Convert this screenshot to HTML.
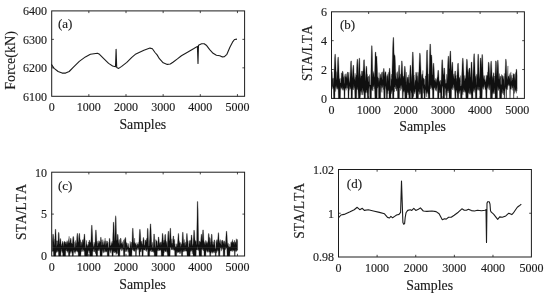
<!DOCTYPE html>
<html><head><meta charset="utf-8"><title>Figure</title>
<style>
html,body{margin:0;padding:0;background:#fff;}
svg{display:block;font-family:"Liberation Serif", "DejaVu Serif", serif;font-kerning:none;}
text{stroke:#1c1c1c;stroke-width:.15px;}
</style></head>
<body>
<svg width="550" height="297" viewBox="0 0 550 297">
<rect width="550" height="297" fill="#fff"/>
<rect x="51.7" y="10.9" width="192.9" height="85.4" fill="none" stroke="#1c1c1c" stroke-width="1"/>
<path d="M88.85 96.3V94.1M88.85 10.9V13.1M126 96.3V94.1M126 10.9V13.1M163.15 96.3V94.1M163.15 10.9V13.1M200.3 96.3V94.1M200.3 10.9V13.1M237.45 96.3V94.1M237.45 10.9V13.1M51.7 67.83H53.9M244.6 67.83H242.4M51.7 39.37H53.9M244.6 39.37H242.4" stroke="#1c1c1c" stroke-width="0.8" fill="none"/>
<text x="47.1" y="100.6" font-size="12" text-anchor="end" fill="#1c1c1c">6100</text>
<text x="47.1" y="72.13" font-size="12" text-anchor="end" fill="#1c1c1c">6200</text>
<text x="47.1" y="43.67" font-size="12" text-anchor="end" fill="#1c1c1c">6300</text>
<text x="47.1" y="15.2" font-size="12" text-anchor="end" fill="#1c1c1c">6400</text>
<text x="51.7" y="111.2" font-size="12" text-anchor="middle" fill="#1c1c1c">0</text>
<text x="88.85" y="111.2" font-size="12" text-anchor="middle" fill="#1c1c1c">1000</text>
<text x="126" y="111.2" font-size="12" text-anchor="middle" fill="#1c1c1c">2000</text>
<text x="163.15" y="111.2" font-size="12" text-anchor="middle" fill="#1c1c1c">3000</text>
<text x="200.3" y="111.2" font-size="12" text-anchor="middle" fill="#1c1c1c">4000</text>
<text x="237.45" y="111.2" font-size="12" text-anchor="middle" fill="#1c1c1c">5000</text>
<text x="142.8" y="129.4" font-size="13.8" text-anchor="middle" fill="#1c1c1c">Samples</text>
<text x="14.7" y="60.4" font-size="14.1" text-anchor="middle" fill="#1c1c1c" transform="rotate(-90 14.7 60.4)">Force(kN)</text>
<text x="58" y="28" font-size="13" text-anchor="start" fill="#1c1c1c">(a)</text>
<polyline points="51.4,64.4 54.1,68.4 58.1,71.5 62.1,73.1 65.6,73.1 69.2,71.5 73.2,67.4 79.3,61.4 85.4,56.9 90.4,54.3 97.5,53.3 99.5,54.3 103.5,58.3 108.6,63.4 112.6,66.0 115.5,66.8 116.1,49.2 116.7,67.4 118.7,68.4 121.7,66.4 126.8,62.4 131.8,57.3 135.9,53.9 143.9,50.3 150.0,48.1 152.4,48.8 155.0,52.5 157.1,54.9 159.4,58.7 163.2,62.8 167.3,64.4 170.3,64.0 173.3,62.0 177.4,58.9 181.4,55.7 187.5,52.3 193.5,48.8 197.4,46.4 198.0,63.4 198.5,45.2 201.6,43.8 204.2,43.8 206.3,45.2 209.7,49.6 213.1,53.3 216.4,55.3 219.8,55.7 222.4,56.9 224.4,56.7 226.9,54.3 229.9,47.2 232.5,42.2 234.5,39.5 237.0,39.1" fill="none" stroke="#1c1c1c" stroke-width="1.1" stroke-linejoin="round"/>
<rect x="331.5" y="11.8" width="192.9" height="86.6" fill="none" stroke="#1c1c1c" stroke-width="1"/>
<path d="M368.65 98.4V96.2M368.65 11.8V14M405.8 98.4V96.2M405.8 11.8V14M442.95 98.4V96.2M442.95 11.8V14M480.1 98.4V96.2M480.1 11.8V14M517.25 98.4V96.2M517.25 11.8V14M331.5 69.53H333.7M524.4 69.53H522.2M331.5 40.67H333.7M524.4 40.67H522.2" stroke="#1c1c1c" stroke-width="0.8" fill="none"/>
<text x="326.9" y="102.7" font-size="12" text-anchor="end" fill="#1c1c1c">0</text>
<text x="326.9" y="73.83" font-size="12" text-anchor="end" fill="#1c1c1c">2</text>
<text x="326.9" y="44.97" font-size="12" text-anchor="end" fill="#1c1c1c">4</text>
<text x="326.9" y="16.1" font-size="12" text-anchor="end" fill="#1c1c1c">6</text>
<text x="331.5" y="113.6" font-size="12" text-anchor="middle" fill="#1c1c1c">0</text>
<text x="368.65" y="113.6" font-size="12" text-anchor="middle" fill="#1c1c1c">1000</text>
<text x="405.8" y="113.6" font-size="12" text-anchor="middle" fill="#1c1c1c">2000</text>
<text x="442.95" y="113.6" font-size="12" text-anchor="middle" fill="#1c1c1c">3000</text>
<text x="480.1" y="113.6" font-size="12" text-anchor="middle" fill="#1c1c1c">4000</text>
<text x="517.25" y="113.6" font-size="12" text-anchor="middle" fill="#1c1c1c">5000</text>
<text x="422.6" y="130.7" font-size="13.8" text-anchor="middle" fill="#1c1c1c">Samples</text>
<text x="312" y="53.1" font-size="13.6" text-anchor="middle" fill="#1c1c1c" transform="rotate(-90 312 53.1)">STA/LTA</text>
<text x="340" y="28.8" font-size="13" text-anchor="start" fill="#1c1c1c">(b)</text>
<polygon points="332.1,71.6 332.4,78.0 332.6,78.3 332.9,79.5 333.1,77.9 333.4,79.1 333.6,86.2 333.9,78.3 334.1,71.1 334.4,64.4 334.6,57.9 334.9,54.2 335.1,54.2 335.4,54.2 335.6,57.9 335.9,64.4 336.1,71.1 336.4,72.2 336.6,77.0 336.9,80.4 337.1,73.8 337.4,67.2 337.6,60.9 337.9,57.2 338.1,57.2 338.4,57.2 338.6,60.9 338.9,67.2 339.1,73.8 339.4,80.0 339.6,78.6 339.9,79.7 340.1,82.9 340.4,82.9 340.6,82.7 340.9,78.3 341.1,79.6 341.4,72.8 341.6,79.9 341.9,73.2 342.1,74.4 342.4,71.3 342.6,71.3 342.9,71.3 343.1,72.3 343.4,75.9 343.6,77.1 343.9,77.5 344.1,84.0 344.4,82.2 344.6,75.7 344.9,75.4 345.1,74.0 345.4,76.0 345.6,76.5 345.9,77.5 346.1,73.5 346.4,76.5 346.6,78.4 346.9,76.5 347.1,79.1 347.4,73.2 347.6,72.1 347.9,72.1 348.1,72.1 348.4,75.2 348.6,79.8 348.9,72.3 349.1,83.2 349.4,81.4 349.6,80.9 349.9,77.8 350.1,75.9 350.4,69.3 350.6,63.0 350.9,60.9 351.1,60.9 351.4,60.9 351.6,66.2 351.9,72.6 352.1,75.4 352.4,78.3 352.6,72.7 352.9,67.4 353.1,65.3 353.4,65.3 353.6,65.3 353.9,69.5 354.1,74.9 354.4,77.5 354.6,79.8 354.9,78.8 355.1,73.2 355.4,81.4 355.6,77.6 355.9,76.9 356.1,74.8 356.4,75.4 356.6,68.4 356.9,61.8 357.1,59.2 357.4,59.2 357.6,59.2 357.9,64.4 358.1,71.1 358.4,78.3 358.6,69.7 358.9,61.4 359.1,58.2 359.4,58.2 359.6,58.2 359.9,64.7 360.1,73.2 360.4,74.8 360.6,78.8 360.9,75.8 361.1,76.0 361.4,75.9 361.6,71.3 361.9,70.9 362.1,70.9 362.4,71.4 362.6,76.0 362.9,71.3 363.1,71.2 363.4,65.9 363.6,60.8 363.9,59.8 364.1,59.8 364.4,59.8 364.6,64.9 364.9,70.1 365.1,75.1 365.4,81.5 365.6,76.1 365.9,70.6 366.1,66.3 366.4,66.3 366.6,66.3 366.9,68.4 367.1,73.8 367.4,74.5 367.6,76.7 367.9,77.4 368.1,82.6 368.4,80.5 368.6,76.0 368.9,77.0 369.1,77.8 369.4,76.1 369.6,74.5 369.9,85.0 370.1,85.0 370.4,85.0 370.6,85.0 370.9,72.3 371.1,60.6 371.4,49.8 371.6,45.7 371.9,45.7 372.1,45.7 372.4,54.1 372.6,65.2 372.9,77.3 373.1,74.2 373.4,71.4 373.6,73.3 373.9,73.3 374.1,77.5 374.4,76.0 374.6,72.6 374.9,62.9 375.1,53.9 375.4,52.1 375.6,52.1 375.9,52.1 376.1,57.5 376.4,56.2 376.6,56.2 376.9,56.2 377.1,62.6 377.4,69.2 377.6,76.3 377.9,77.2 378.1,78.3 378.4,78.0 378.6,82.9 378.9,78.0 379.1,72.5 379.4,81.9 379.6,80.5 379.9,78.1 380.1,78.2 380.4,74.6 380.6,74.5 380.9,74.5 381.1,75.0 381.4,72.4 381.6,78.5 381.9,76.6 382.1,72.1 382.4,71.8 382.6,79.5 382.9,79.3 383.1,73.7 383.4,70.3 383.6,68.5 383.9,68.5 384.1,68.5 384.4,73.3 384.6,77.3 384.9,73.3 385.1,72.4 385.4,71.8 385.6,71.8 385.9,71.8 386.1,74.7 386.4,76.6 386.6,78.4 386.9,83.7 387.1,76.4 387.4,75.8 387.6,74.4 387.9,74.4 388.1,74.4 388.4,72.2 388.6,81.4 388.9,76.7 389.1,71.9 389.4,68.3 389.6,68.3 389.9,68.3 390.1,71.9 390.4,78.2 390.6,85.0 390.9,86.8 391.1,78.6 391.4,80.3 391.6,74.1 391.9,77.3 392.1,68.1 392.4,58.5 392.6,49.5 392.9,40.9 393.1,37.5 393.4,37.5 393.6,37.5 393.9,44.3 394.1,53.1 394.4,55.2 394.6,55.2 394.9,55.2 395.1,56.4 395.4,62.5 395.6,68.9 395.9,75.7 396.1,78.1 396.4,79.2 396.6,78.9 396.9,72.4 397.1,75.4 397.4,73.4 397.6,71.5 397.9,79.5 398.1,78.6 398.4,76.4 398.6,69.3 398.9,65.3 399.1,65.3 399.4,65.3 399.6,69.3 399.9,76.3 400.1,77.2 400.4,79.1 400.6,73.9 400.9,76.3 401.1,71.5 401.4,64.9 401.6,60.9 401.9,60.9 402.1,60.9 402.4,64.4 402.6,70.9 402.9,75.2 403.1,78.2 403.4,75.9 403.6,76.4 403.9,77.8 404.1,73.0 404.4,68.2 404.6,66.3 404.9,66.3 405.1,66.3 405.4,70.1 405.6,74.9 405.9,80.1 406.1,85.7 406.4,72.1 406.6,82.1 406.9,81.4 407.1,77.4 407.4,77.7 407.6,76.9 407.9,78.8 408.1,83.3 408.4,74.8 408.6,81.2 408.9,77.1 409.1,83.6 409.4,82.2 409.6,75.8 409.9,69.9 410.1,65.3 410.4,65.3 410.6,65.3 410.9,67.6 411.1,73.4 411.4,77.3 411.6,81.9 411.9,72.3 412.1,63.5 412.4,55.3 412.6,52.1 412.9,52.1 413.1,52.1 413.4,58.5 413.6,66.9 413.9,76.0 414.1,75.2 414.4,79.0 414.6,86.2 414.9,82.2 415.1,81.0 415.4,79.7 415.6,81.6 415.9,72.0 416.1,78.5 416.4,73.2 416.6,79.1 416.9,71.9 417.1,82.2 417.4,75.7 417.6,82.7 417.9,76.3 418.1,72.2 418.4,83.8 418.6,77.9 418.9,70.9 419.1,64.3 419.4,58.0 419.6,53.2 419.9,53.2 420.1,53.2 420.4,55.6 420.6,61.8 420.9,68.2 421.1,72.9 421.4,81.1 421.6,76.3 421.9,74.3 422.1,74.2 422.4,74.3 422.6,77.7 422.9,70.4 423.1,78.5 423.4,77.9 423.6,77.9 423.9,78.7 424.1,81.4 424.4,79.1 424.6,84.5 424.9,84.5 425.1,86.7 425.4,76.0 425.6,76.7 425.9,75.3 426.1,71.7 426.4,61.6 426.6,52.0 426.9,50.1 427.1,50.1 427.4,50.1 427.6,59.6 427.9,69.7 428.1,80.9 428.4,87.0 428.6,73.9 428.9,83.4 429.1,72.3 429.4,62.3 429.6,53.0 429.9,44.1 430.1,44.1 430.4,44.1 430.6,45.8 430.9,54.8 431.1,55.0 431.4,55.0 431.6,55.0 431.9,57.2 432.1,62.9 432.4,68.8 432.6,75.1 432.9,74.5 433.1,67.4 433.4,63.3 433.6,63.3 433.9,63.3 434.1,67.4 434.4,74.5 434.6,80.2 434.9,80.3 435.1,80.6 435.4,82.6 435.6,78.2 435.9,82.3 436.1,79.2 436.4,82.8 436.6,81.7 436.9,78.8 437.1,77.8 437.4,76.7 437.6,74.5 437.9,70.3 438.1,70.3 438.4,70.3 438.6,71.1 438.9,75.4 439.1,79.8 439.4,81.2 439.6,82.0 439.9,81.2 440.1,85.1 440.4,83.6 440.6,80.6 440.9,80.1 441.1,81.7 441.4,73.9 441.6,66.6 441.9,59.8 442.1,59.8 442.4,59.8 442.6,61.1 442.9,68.1 443.1,75.1 443.4,74.0 443.6,73.2 443.9,68.0 444.1,68.0 444.4,68.0 444.6,69.1 444.9,74.2 445.1,79.7 445.4,79.6 445.6,83.3 445.9,83.6 446.1,83.0 446.4,83.6 446.6,74.2 446.9,83.9 447.1,79.1 447.4,74.1 447.6,66.4 447.9,59.0 448.1,56.2 448.4,56.2 448.6,56.2 448.9,61.9 449.1,69.4 449.4,67.8 449.6,60.6 449.9,53.8 450.1,51.1 450.4,51.1 450.6,51.1 450.9,56.5 451.1,63.5 451.4,70.8 451.6,70.6 451.9,64.5 452.1,62.2 452.4,62.2 452.6,62.2 452.9,66.9 453.1,73.1 453.4,78.2 453.6,76.3 453.9,73.9 454.1,78.7 454.4,78.2 454.6,74.4 454.9,71.1 455.1,71.1 455.4,71.1 455.6,73.5 455.9,76.3 456.1,75.5 456.4,82.0 456.6,78.4 456.9,79.1 457.1,73.6 457.4,69.3 457.6,64.3 457.9,63.3 458.1,63.3 458.4,63.3 458.6,68.3 458.9,73.5 459.1,79.0 459.4,77.8 459.6,77.3 459.9,78.4 460.1,82.0 460.4,75.5 460.6,86.3 460.9,86.1 461.1,86.1 461.4,83.4 461.6,77.1 461.9,71.2 462.1,65.6 462.4,60.3 462.6,58.2 462.9,58.2 463.1,58.2 463.4,62.4 463.6,67.8 463.9,73.5 464.1,79.6 464.4,81.5 464.6,75.4 464.9,79.9 465.1,78.8 465.4,78.2 465.6,77.4 465.9,74.2 466.1,68.6 466.4,63.3 466.6,59.2 466.9,59.2 467.1,59.2 467.4,61.2 467.6,66.5 467.9,71.9 468.1,69.3 468.4,78.3 468.6,71.8 468.9,73.7 469.1,68.9 469.4,68.0 469.6,68.0 469.9,68.0 470.1,72.7 470.4,77.6 470.6,76.7 470.9,69.8 471.1,63.3 471.4,62.0 471.6,62.0 471.9,62.0 472.1,68.5 472.4,75.3 472.6,82.7 472.9,79.3 473.1,71.6 473.4,64.5 473.6,57.7 473.9,53.8 474.1,53.8 474.4,53.8 474.6,57.7 474.9,64.5 475.1,71.6 475.4,79.3 475.6,77.1 475.9,75.7 476.1,85.7 476.4,79.8 476.6,74.2 476.9,79.5 477.1,75.9 477.4,72.0 477.6,62.8 477.9,54.2 478.1,54.2 478.4,54.2 478.6,55.9 478.9,64.6 479.1,73.9 479.4,79.6 479.6,76.7 479.9,69.1 480.1,62.1 480.4,58.0 480.6,58.0 480.9,58.0 481.1,62.1 481.4,69.1 481.6,62.2 481.9,54.6 482.1,54.6 482.4,54.6 482.6,56.1 482.9,63.7 483.1,71.9 483.4,78.4 483.6,78.4 483.9,75.5 484.1,75.5 484.4,76.1 484.6,79.1 484.9,79.7 485.1,81.4 485.4,81.7 485.6,81.0 485.9,78.7 486.1,75.3 486.4,76.5 486.6,80.8 486.9,74.9 487.1,75.4 487.4,75.4 487.6,72.1 487.9,71.8 488.1,66.9 488.4,62.2 488.6,62.2 488.9,62.2 489.1,63.1 489.4,67.8 489.6,72.7 489.9,77.9 490.1,76.3 490.4,69.9 490.6,64.6 490.9,61.2 491.1,61.2 491.4,61.2 491.6,64.6 491.9,70.4 492.1,76.6 492.4,77.5 492.6,80.1 492.9,75.7 493.1,79.0 493.4,72.5 493.6,75.2 493.9,73.2 494.1,76.8 494.4,76.0 494.6,83.6 494.9,79.5 495.1,73.4 495.4,66.7 495.6,60.9 495.9,60.9 496.1,60.9 496.4,62.6 496.6,69.1 496.9,75.9 497.1,69.1 497.4,62.7 497.6,60.2 497.9,60.2 498.1,60.2 498.4,65.2 498.6,71.8 498.9,78.8 499.1,79.4 499.4,73.5 499.6,76.6 499.9,79.7 500.1,76.3 500.4,79.2 500.6,75.9 500.9,84.5 501.1,84.5 501.4,84.5 501.6,74.3 501.9,77.9 502.1,75.3 502.4,78.5 502.6,75.6 502.9,77.1 503.1,78.4 503.4,79.4 503.6,78.9 503.9,76.2 504.1,86.2 504.4,73.4 504.6,86.4 504.9,78.6 505.1,71.8 505.4,64.7 505.6,59.2 505.9,59.2 506.1,59.2 506.4,61.9 506.6,68.9 506.9,76.4 507.1,79.8 507.4,77.6 507.6,76.4 507.9,65.9 508.1,76.8 508.4,76.0 508.6,75.9 508.9,76.7 509.1,78.3 509.4,74.5 509.6,77.7 509.9,78.9 510.1,73.1 510.4,82.5 510.6,79.1 510.9,71.9 511.1,81.5 511.4,80.4 511.6,77.0 511.9,74.9 512.1,80.2 512.4,79.7 512.6,77.8 512.9,79.6 513.1,73.3 513.4,74.3 513.6,74.3 513.9,74.3 514.1,77.1 514.4,80.9 514.6,73.8 514.9,74.7 515.1,81.0 515.4,75.4 515.6,72.6 515.9,72.9 516.1,69.3 516.4,69.3 516.6,69.3 516.9,71.1 517.1,75.7 517.1,88.7 516.9,91.1 516.6,87.5 516.4,93.4 516.1,91.2 515.9,89.8 515.6,91.6 515.4,90.7 515.1,89.9 514.9,86.8 514.6,92.5 514.4,93.6 514.1,87.1 513.9,98.4 513.6,98.4 513.4,85.3 513.1,87.6 512.9,90.5 512.6,85.7 512.4,87.7 512.1,88.1 511.9,86.6 511.6,85.0 511.4,88.4 511.1,89.5 510.9,88.9 510.6,88.7 510.4,90.4 510.1,98.4 509.9,98.4 509.6,85.6 509.4,84.6 509.1,86.2 508.9,85.3 508.6,85.5 508.4,84.0 508.1,84.8 507.9,85.0 507.6,89.8 507.4,85.6 507.1,87.7 506.9,89.4 506.6,88.5 506.4,98.4 506.1,98.4 505.9,90.2 505.6,86.7 505.4,88.2 505.1,89.6 504.9,91.4 504.6,98.4 504.4,98.4 504.1,98.4 503.9,91.8 503.6,95.0 503.4,91.4 503.1,90.3 502.9,93.1 502.6,88.4 502.4,90.4 502.1,93.8 501.9,91.4 501.6,98.4 501.4,98.4 501.1,98.4 500.9,98.4 500.6,98.4 500.4,98.4 500.1,98.4 499.9,98.4 499.6,98.4 499.4,89.1 499.1,88.8 498.9,87.7 498.6,90.7 498.4,86.6 498.1,90.1 497.9,88.4 497.6,85.8 497.4,98.4 497.1,98.4 496.9,98.4 496.6,98.4 496.4,98.4 496.1,98.4 495.9,98.4 495.6,98.4 495.4,98.4 495.1,98.4 494.9,87.4 494.6,93.8 494.4,89.5 494.1,90.1 493.9,93.4 493.6,93.4 493.4,92.5 493.1,91.0 492.9,94.3 492.6,91.3 492.4,98.4 492.1,98.4 491.9,98.4 491.6,98.4 491.4,98.4 491.1,98.4 490.9,98.4 490.6,98.4 490.4,98.4 490.1,84.2 489.9,87.8 489.6,88.5 489.4,90.2 489.1,84.1 488.9,89.5 488.6,84.1 488.4,85.3 488.1,87.2 487.9,88.5 487.6,86.8 487.4,86.5 487.1,90.9 486.9,98.4 486.6,98.4 486.4,98.4 486.1,98.4 485.9,98.4 485.6,89.0 485.4,89.7 485.1,89.3 484.9,87.7 484.6,87.1 484.4,84.1 484.1,85.7 483.9,87.3 483.6,89.6 483.4,87.2 483.1,86.2 482.9,88.7 482.6,85.9 482.4,88.7 482.1,98.4 481.9,98.4 481.6,98.4 481.4,98.4 481.1,98.4 480.9,98.4 480.6,98.4 480.4,98.4 480.1,98.4 479.9,98.4 479.6,88.1 479.4,90.7 479.1,87.0 478.9,86.4 478.6,90.2 478.4,89.2 478.1,88.7 477.9,90.4 477.6,86.2 477.4,89.2 477.1,89.2 476.9,98.4 476.6,98.4 476.4,98.4 476.1,98.4 475.9,98.4 475.6,98.4 475.4,98.4 475.1,86.5 474.9,90.3 474.6,89.1 474.4,87.6 474.1,92.6 473.9,88.1 473.6,91.3 473.4,91.3 473.1,90.3 472.9,98.4 472.6,98.4 472.4,98.4 472.1,98.4 471.9,98.4 471.6,98.4 471.4,98.4 471.1,93.6 470.9,93.2 470.6,93.4 470.4,90.3 470.1,94.7 469.9,94.1 469.6,93.0 469.4,93.5 469.1,87.6 468.9,92.6 468.6,93.3 468.4,90.5 468.1,98.4 467.9,98.4 467.6,98.4 467.4,98.4 467.1,98.4 466.9,98.4 466.6,98.4 466.4,98.4 466.1,98.4 465.9,98.4 465.6,92.5 465.4,90.7 465.1,92.5 464.9,91.1 464.6,90.2 464.4,89.5 464.1,92.4 463.9,90.7 463.6,88.1 463.4,92.0 463.1,90.3 462.9,94.8 462.6,91.5 462.4,89.6 462.1,98.4 461.9,98.4 461.6,98.4 461.4,98.4 461.1,98.4 460.9,98.4 460.6,98.4 460.4,91.6 460.1,90.0 459.9,90.8 459.6,93.6 459.4,91.9 459.1,91.2 458.9,91.4 458.6,98.4 458.4,98.4 458.1,98.4 457.9,98.4 457.6,98.4 457.4,98.4 457.1,92.8 456.9,92.6 456.6,91.0 456.4,90.2 456.1,90.2 455.9,98.4 455.6,98.4 455.4,98.4 455.1,98.4 454.9,98.4 454.6,89.0 454.4,86.2 454.1,90.4 453.9,85.5 453.6,84.3 453.4,86.1 453.1,88.6 452.9,86.1 452.6,90.0 452.4,86.8 452.1,88.0 451.9,88.8 451.6,88.7 451.4,98.4 451.1,98.4 450.9,98.4 450.6,98.4 450.4,98.4 450.1,98.4 449.9,98.4 449.6,98.4 449.4,98.4 449.1,98.4 448.9,90.3 448.6,91.1 448.4,88.3 448.1,93.0 447.9,88.9 447.6,91.2 447.4,89.9 447.1,98.4 446.9,98.4 446.6,98.4 446.4,98.4 446.1,91.0 445.9,95.6 445.6,91.2 445.4,87.5 445.1,88.9 444.9,86.7 444.6,98.4 444.4,98.4 444.1,98.4 443.9,98.4 443.6,98.4 443.4,98.4 443.1,98.4 442.9,88.7 442.6,86.0 442.4,86.0 442.1,88.1 441.9,98.4 441.6,98.4 441.4,98.4 441.1,98.4 440.9,98.4 440.6,98.4 440.4,91.5 440.1,93.0 439.9,91.1 439.6,92.8 439.4,89.2 439.1,92.7 438.9,98.4 438.6,98.4 438.4,98.4 438.1,98.4 437.9,98.4 437.6,98.4 437.4,84.6 437.1,87.5 436.9,88.6 436.6,89.7 436.4,91.4 436.1,87.1 435.9,90.2 435.6,86.1 435.4,90.6 435.1,88.6 434.9,88.3 434.6,88.1 434.4,87.1 434.1,89.2 433.9,98.4 433.6,98.4 433.4,98.4 433.1,98.4 432.9,98.4 432.6,98.4 432.4,88.2 432.1,90.2 431.9,84.9 431.6,88.5 431.4,87.2 431.1,87.4 430.9,84.5 430.6,88.1 430.4,89.0 430.1,86.3 429.9,98.4 429.6,98.4 429.4,98.4 429.1,98.4 428.9,98.4 428.6,98.4 428.4,98.4 428.1,93.8 427.9,92.8 427.6,91.4 427.4,91.6 427.1,93.7 426.9,91.3 426.6,97.0 426.4,93.2 426.1,93.2 425.9,90.4 425.6,89.3 425.4,93.3 425.1,98.4 424.9,98.4 424.6,98.4 424.4,98.4 424.1,98.4 423.9,87.7 423.6,89.2 423.4,93.4 423.1,89.3 422.9,85.0 422.6,98.4 422.4,98.4 422.1,98.4 421.9,98.4 421.6,98.4 421.4,98.4 421.1,98.4 420.9,98.4 420.6,88.6 420.4,92.6 420.1,94.1 419.9,93.5 419.6,90.9 419.4,94.6 419.1,88.7 418.9,92.0 418.6,90.4 418.4,98.4 418.1,98.4 417.9,98.4 417.6,98.4 417.4,98.4 417.1,98.4 416.9,98.4 416.6,98.4 416.4,98.4 416.1,98.4 415.9,93.1 415.6,91.4 415.4,89.2 415.1,89.3 414.9,92.7 414.6,94.1 414.4,91.5 414.1,92.4 413.9,90.1 413.6,96.8 413.4,94.5 413.1,98.4 412.9,98.4 412.6,98.4 412.4,98.4 412.1,98.4 411.9,98.4 411.6,98.4 411.4,93.5 411.1,92.4 410.9,90.2 410.6,91.6 410.4,98.4 410.1,98.4 409.9,98.4 409.6,98.4 409.4,98.4 409.1,98.4 408.9,98.4 408.6,91.7 408.4,92.8 408.1,95.0 407.9,91.2 407.6,92.9 407.4,91.0 407.1,94.2 406.9,98.4 406.6,98.4 406.4,98.4 406.1,98.4 405.9,98.4 405.6,98.4 405.4,98.4 405.1,98.4 404.9,98.4 404.6,91.6 404.4,89.8 404.1,92.3 403.9,91.3 403.6,91.6 403.4,91.7 403.1,98.4 402.9,98.4 402.6,98.4 402.4,98.4 402.1,88.0 401.9,84.8 401.6,87.1 401.4,89.3 401.1,86.6 400.9,87.6 400.6,90.7 400.4,87.0 400.1,85.2 399.9,88.1 399.6,87.9 399.4,98.4 399.1,98.4 398.9,98.4 398.6,98.4 398.4,98.4 398.1,98.4 397.9,98.4 397.6,98.4 397.4,87.8 397.1,89.0 396.9,91.3 396.6,87.8 396.4,90.8 396.1,86.1 395.9,89.0 395.6,88.7 395.4,84.6 395.1,87.1 394.9,86.9 394.6,86.8 394.4,91.9 394.1,89.7 393.9,98.4 393.6,98.4 393.4,98.4 393.1,98.4 392.9,98.4 392.6,98.4 392.4,91.6 392.1,90.1 391.9,91.8 391.6,91.7 391.4,93.8 391.1,89.5 390.9,98.4 390.6,98.4 390.4,98.4 390.1,98.4 389.9,98.4 389.6,98.4 389.4,98.4 389.1,98.4 388.9,91.5 388.6,89.3 388.4,90.8 388.1,90.3 387.9,93.9 387.6,89.3 387.4,98.4 387.1,98.4 386.9,98.4 386.6,98.4 386.4,98.4 386.1,89.5 385.9,88.7 385.6,86.6 385.4,85.5 385.1,98.4 384.9,98.4 384.6,98.4 384.4,98.4 384.1,98.4 383.9,98.4 383.6,88.1 383.4,89.7 383.1,84.8 382.9,87.6 382.6,87.4 382.4,84.3 382.1,89.5 381.9,92.5 381.6,88.5 381.4,88.1 381.1,85.5 380.9,84.7 380.6,98.4 380.4,98.4 380.1,98.4 379.9,98.4 379.6,98.4 379.4,98.4 379.1,98.4 378.9,98.4 378.6,98.4 378.4,86.0 378.1,87.5 377.9,87.8 377.6,88.3 377.4,85.3 377.1,98.4 376.9,98.4 376.6,98.4 376.4,98.4 376.1,98.4 375.9,98.4 375.6,98.4 375.4,98.4 375.1,98.4 374.9,98.4 374.6,89.5 374.4,83.9 374.1,89.0 373.9,86.8 373.6,85.3 373.4,87.0 373.1,85.3 372.9,91.1 372.6,86.7 372.4,90.3 372.1,85.3 371.9,90.4 371.6,88.3 371.4,98.4 371.1,98.4 370.9,98.4 370.6,98.4 370.4,98.4 370.1,98.4 369.9,98.4 369.6,89.6 369.4,87.7 369.1,85.7 368.9,88.9 368.6,98.4 368.4,98.4 368.1,98.4 367.9,98.4 367.6,98.4 367.4,98.4 367.1,92.4 366.9,92.0 366.6,92.4 366.4,90.7 366.1,89.8 365.9,93.1 365.6,92.0 365.4,98.4 365.1,98.4 364.9,98.4 364.6,98.4 364.4,98.4 364.1,98.4 363.9,93.2 363.6,90.8 363.4,90.4 363.1,92.8 362.9,94.8 362.6,95.1 362.4,87.5 362.1,89.5 361.9,92.5 361.6,89.8 361.4,91.2 361.1,95.0 360.9,90.8 360.6,91.9 360.4,96.2 360.1,98.4 359.9,98.4 359.6,98.4 359.4,98.4 359.1,98.4 358.9,98.4 358.6,98.4 358.4,98.4 358.1,92.3 357.9,86.9 357.6,89.3 357.4,87.6 357.1,90.0 356.9,88.5 356.6,98.4 356.4,98.4 356.1,98.4 355.9,98.4 355.6,98.4 355.4,98.4 355.1,98.4 354.9,98.4 354.6,88.4 354.4,85.5 354.1,88.4 353.9,87.4 353.6,85.9 353.4,89.9 353.1,84.0 352.9,89.8 352.6,88.5 352.4,98.4 352.1,98.4 351.9,98.4 351.6,98.4 351.4,98.4 351.1,98.4 350.9,87.7 350.6,87.2 350.4,88.9 350.1,89.3 349.9,85.7 349.6,88.8 349.4,89.3 349.1,91.2 348.9,98.4 348.6,98.4 348.4,98.4 348.1,98.4 347.9,89.6 347.6,84.3 347.4,87.9 347.1,88.6 346.9,87.6 346.6,88.0 346.4,84.4 346.1,90.4 345.9,87.8 345.6,88.3 345.4,88.8 345.1,89.5 344.9,98.4 344.6,98.4 344.4,98.4 344.1,98.4 343.9,88.0 343.6,88.5 343.4,90.4 343.1,88.5 342.9,89.1 342.6,87.3 342.4,90.3 342.1,86.3 341.9,89.2 341.6,87.8 341.4,88.0 341.1,87.6 340.9,86.3 340.6,90.7 340.4,98.4 340.1,98.4 339.9,98.4 339.6,98.4 339.4,98.4 339.1,98.4 338.9,98.4 338.6,98.4 338.4,98.4 338.1,87.9 337.9,89.4 337.6,87.7 337.4,88.4 337.1,87.0 336.9,89.3 336.6,85.0 336.4,87.5 336.1,86.4 335.9,86.6 335.6,91.6 335.4,85.5 335.1,88.7 334.9,98.4 334.6,98.4 334.4,98.4 334.1,98.4 333.9,98.4 333.6,98.4 333.4,90.3 333.1,88.0 332.9,87.5 332.6,86.3 332.4,85.9 332.1,89.1" fill="#101010" stroke="#101010" stroke-width="0.3" stroke-linejoin="round"/>
<rect x="51.7" y="172.2" width="192.9" height="83.8" fill="none" stroke="#1c1c1c" stroke-width="1"/>
<path d="M88.85 256V253.8M88.85 172.2V174.4M126 256V253.8M126 172.2V174.4M163.15 256V253.8M163.15 172.2V174.4M200.3 256V253.8M200.3 172.2V174.4M237.45 256V253.8M237.45 172.2V174.4M51.7 214.1H53.9M244.6 214.1H242.4" stroke="#1c1c1c" stroke-width="0.8" fill="none"/>
<text x="47.1" y="260.3" font-size="12" text-anchor="end" fill="#1c1c1c">0</text>
<text x="47.1" y="218.4" font-size="12" text-anchor="end" fill="#1c1c1c">5</text>
<text x="47.1" y="176.5" font-size="12" text-anchor="end" fill="#1c1c1c">10</text>
<text x="51.7" y="270.9" font-size="12" text-anchor="middle" fill="#1c1c1c">0</text>
<text x="88.85" y="270.9" font-size="12" text-anchor="middle" fill="#1c1c1c">1000</text>
<text x="126" y="270.9" font-size="12" text-anchor="middle" fill="#1c1c1c">2000</text>
<text x="163.15" y="270.9" font-size="12" text-anchor="middle" fill="#1c1c1c">3000</text>
<text x="200.3" y="270.9" font-size="12" text-anchor="middle" fill="#1c1c1c">4000</text>
<text x="237.45" y="270.9" font-size="12" text-anchor="middle" fill="#1c1c1c">5000</text>
<text x="142.6" y="288.6" font-size="13.8" text-anchor="middle" fill="#1c1c1c">Samples</text>
<text x="26.2" y="212" font-size="13.6" text-anchor="middle" fill="#1c1c1c" transform="rotate(-90 26.2 212)">STA/LTA</text>
<text x="58" y="190.4" font-size="13" text-anchor="start" fill="#1c1c1c">(c)</text>
<polygon points="52.3,241.4 52.6,237.6 52.8,234.2 53.1,234.2 53.3,234.2 53.6,236.4 53.8,240.1 54.1,244.0 54.3,245.8 54.6,239.3 54.8,239.6 55.1,233.0 55.3,229.3 55.6,229.3 55.8,229.3 56.1,235.6 56.3,242.1 56.6,240.6 56.8,246.9 57.1,245.0 57.3,243.4 57.6,240.8 57.8,241.9 58.1,239.5 58.3,234.3 58.6,232.3 58.8,232.3 59.1,233.3 59.3,238.5 59.6,244.0 59.8,243.7 60.1,239.6 60.3,238.6 60.6,238.6 60.8,240.0 61.1,244.1 61.3,244.2 61.6,245.9 61.8,245.9 62.1,243.1 62.3,243.0 62.6,241.1 62.8,242.1 63.1,242.1 63.3,243.2 63.6,246.8 63.8,245.1 64.1,242.3 64.3,241.2 64.6,241.2 64.8,241.9 65.1,242.6 65.3,241.9 65.6,242.7 65.8,243.7 66.1,244.4 66.3,241.7 66.6,245.1 66.8,243.3 67.1,240.5 67.3,242.5 67.6,244.7 67.8,241.5 68.1,243.6 68.3,242.3 68.6,239.5 68.8,239.5 69.1,236.3 69.3,242.7 69.6,243.0 69.8,242.1 70.1,240.2 70.3,240.0 70.6,238.2 70.8,238.2 71.1,238.8 71.3,242.7 71.6,243.0 71.8,243.2 72.1,244.2 72.3,243.4 72.6,240.9 72.8,237.8 73.1,236.4 73.3,236.4 73.6,237.1 73.8,238.5 74.1,242.1 74.3,242.1 74.6,247.2 74.8,247.2 75.1,247.2 75.3,242.9 75.6,240.4 75.8,244.6 76.1,242.6 76.3,246.6 76.6,241.7 76.8,237.0 77.1,233.4 77.3,233.4 77.6,233.4 77.8,237.0 78.1,241.7 78.3,242.5 78.6,240.1 78.8,236.3 79.1,233.4 79.3,233.4 79.6,233.4 79.8,236.3 80.1,240.1 80.3,242.7 80.6,239.7 80.8,246.7 81.1,241.8 81.3,244.7 81.6,245.9 81.8,242.3 82.1,245.0 82.3,242.1 82.6,239.6 82.8,240.3 83.1,240.3 83.3,242.9 83.6,239.1 83.8,239.0 84.1,234.8 84.3,234.0 84.6,234.0 84.8,235.6 85.1,239.9 85.3,244.4 85.6,248.1 85.8,248.1 86.1,244.6 86.3,240.3 86.6,241.9 86.8,244.3 87.1,244.6 87.3,245.5 87.6,246.3 87.8,246.3 88.1,244.3 88.3,245.8 88.6,242.0 88.8,243.0 89.1,240.2 89.3,240.2 89.6,240.2 89.8,243.1 90.1,241.7 90.3,243.0 90.6,242.4 90.8,242.6 91.1,236.0 91.3,229.9 91.6,225.3 91.8,225.3 92.1,225.3 92.3,229.9 92.6,236.0 92.8,241.2 93.1,246.4 93.3,247.0 93.6,245.7 93.8,244.7 94.1,242.1 94.3,243.5 94.6,244.1 94.8,246.7 95.1,241.2 95.3,235.8 95.6,230.9 95.8,229.9 96.1,229.9 96.3,231.8 96.6,236.9 96.8,240.6 97.1,244.3 97.3,241.2 97.6,246.1 97.8,246.1 98.1,243.8 98.3,242.8 98.6,244.8 98.8,240.5 99.1,243.8 99.3,241.2 99.6,243.5 99.8,241.6 100.1,241.8 100.3,241.9 100.6,237.5 100.8,237.2 101.1,237.2 101.3,239.4 101.6,240.3 101.8,245.2 102.1,245.2 102.3,241.8 102.6,244.4 102.8,239.5 103.1,241.3 103.3,242.8 103.6,244.6 103.8,244.8 104.1,244.5 104.3,241.3 104.6,244.8 104.8,241.1 105.1,238.1 105.3,245.8 105.6,244.3 105.8,240.6 106.1,242.4 106.3,244.8 106.6,243.1 106.8,241.1 107.1,241.1 107.3,241.1 107.6,243.6 107.8,243.3 108.1,242.2 108.3,247.6 108.6,247.6 108.8,247.1 109.1,242.6 109.3,238.4 109.6,238.4 109.8,238.4 110.1,240.9 110.3,245.2 110.6,245.8 110.8,245.8 111.1,244.8 111.3,242.4 111.6,245.3 111.8,243.9 112.1,241.0 112.3,243.6 112.6,243.3 112.8,235.7 113.1,228.7 113.3,222.2 113.6,222.2 113.8,222.2 114.1,226.1 114.3,232.8 114.6,240.1 114.8,241.3 115.1,229.9 115.3,219.7 115.6,215.8 115.8,215.8 116.1,217.7 116.3,227.8 116.6,238.9 116.8,240.4 117.1,240.0 117.3,235.9 117.6,234.2 117.8,234.2 118.1,235.0 118.3,239.1 118.6,241.4 118.8,243.1 119.1,244.3 119.3,241.8 119.6,239.4 119.8,245.8 120.1,243.7 120.3,239.7 120.6,238.0 120.8,238.0 121.1,238.9 121.3,242.4 121.6,243.5 121.8,243.2 122.1,244.1 122.3,241.6 122.6,244.3 122.8,244.5 123.1,244.3 123.3,243.2 123.6,240.1 123.8,247.5 124.1,247.5 124.3,238.8 124.6,243.3 124.8,240.5 125.1,238.2 125.3,237.5 125.6,237.5 125.8,238.9 126.1,242.4 126.3,245.1 126.6,242.5 126.8,243.6 127.1,243.1 127.3,244.5 127.6,245.9 127.8,246.7 128.1,247.0 128.3,247.0 128.6,243.4 128.8,244.4 129.1,248.2 129.3,248.0 129.6,248.0 129.8,248.0 130.1,241.3 130.3,243.6 130.6,246.7 130.8,243.9 131.1,242.5 131.3,242.0 131.6,247.9 131.8,245.6 132.1,238.9 132.3,232.9 132.6,228.3 132.8,228.3 133.1,228.3 133.3,232.9 133.6,238.9 133.8,243.7 134.1,241.9 134.3,243.2 134.6,238.1 134.8,242.8 135.1,244.4 135.3,243.6 135.6,244.2 135.8,243.4 136.1,242.5 136.3,247.5 136.6,244.8 136.8,245.2 137.1,246.1 137.3,244.0 137.6,244.3 137.8,243.4 138.1,242.2 138.3,245.6 138.6,243.9 138.8,243.7 139.1,238.9 139.3,234.4 139.6,230.1 139.8,229.3 140.1,229.3 140.3,231.0 140.6,235.3 140.8,239.8 141.1,243.9 141.3,241.4 141.6,244.6 141.8,241.1 142.1,244.8 142.3,243.7 142.6,245.8 142.8,242.0 143.1,237.8 143.3,237.5 143.6,237.5 143.8,239.8 144.1,239.6 144.3,245.3 144.6,245.3 144.8,245.3 145.1,242.4 145.3,240.3 145.6,240.3 145.8,239.9 146.1,242.2 146.3,241.2 146.6,238.3 146.8,241.7 147.1,237.5 147.3,230.8 147.6,228.3 147.8,228.3 148.1,229.6 148.3,236.1 148.6,243.3 148.8,246.3 149.1,246.3 149.3,241.5 149.6,239.1 149.8,232.9 150.1,227.2 150.3,223.9 150.6,223.9 150.8,223.9 151.1,229.5 151.3,235.3 151.6,241.7 151.8,245.5 152.1,244.0 152.3,242.2 152.6,246.7 152.8,247.6 153.1,247.6 153.3,243.9 153.6,238.8 153.8,234.0 154.1,234.0 154.3,234.0 154.6,236.8 154.8,241.8 155.1,247.3 155.3,247.6 155.6,245.3 155.8,239.4 156.1,240.9 156.3,240.8 156.6,240.8 156.8,240.8 157.1,243.2 157.3,245.8 157.6,245.4 157.8,241.9 158.1,240.5 158.3,237.0 158.6,237.0 158.8,237.0 159.1,239.1 159.3,242.7 159.6,243.0 159.8,245.3 160.1,241.9 160.3,246.3 160.6,242.6 160.8,243.4 161.1,241.8 161.3,245.2 161.6,242.9 161.8,241.6 162.1,237.4 162.3,233.4 162.6,233.4 162.8,233.4 163.1,235.8 163.3,239.9 163.6,242.8 163.8,243.2 164.1,240.0 164.3,242.9 164.6,239.0 164.8,235.3 165.1,234.2 165.3,234.2 165.6,235.2 165.8,238.9 166.1,241.7 166.3,241.2 166.6,244.7 166.8,242.3 167.1,247.4 167.3,245.4 167.6,240.0 167.8,235.1 168.1,231.3 168.3,231.3 168.6,231.3 168.8,235.1 169.1,240.0 169.3,241.4 169.6,237.9 169.8,232.4 170.1,228.3 170.3,228.3 170.6,228.3 170.8,232.4 171.1,237.9 171.3,243.8 171.6,243.2 171.8,238.9 172.1,245.6 172.3,243.1 172.6,244.0 172.8,239.4 173.1,236.0 173.3,236.0 173.6,236.0 173.8,239.4 174.1,241.3 174.3,240.6 174.6,239.2 174.8,244.6 175.1,243.7 175.3,246.8 175.6,246.8 175.8,246.8 176.1,246.8 176.3,246.8 176.6,244.6 176.8,243.7 177.1,243.8 177.3,246.6 177.6,242.2 177.8,240.0 178.1,234.5 178.3,233.4 178.6,233.4 178.8,235.5 179.1,241.2 179.3,240.8 179.6,243.4 179.8,242.4 180.1,243.2 180.3,246.3 180.6,247.1 180.8,242.2 181.1,244.8 181.3,243.7 181.6,244.7 181.8,246.0 182.1,240.5 182.3,236.3 182.6,232.3 182.8,232.3 183.1,232.3 183.3,236.3 183.6,241.7 183.8,243.7 184.1,242.6 184.3,239.4 184.6,246.5 184.8,243.0 185.1,245.6 185.3,244.4 185.6,241.9 185.8,246.4 186.1,243.7 186.3,238.8 186.6,234.3 186.8,233.4 187.1,233.4 187.3,235.2 187.6,239.8 187.8,240.5 188.1,243.0 188.3,247.1 188.6,247.1 188.8,247.1 189.1,241.0 189.3,244.3 189.6,242.9 189.8,240.2 190.1,240.2 190.3,246.0 190.6,240.6 190.8,241.5 191.1,237.4 191.3,235.0 191.6,235.0 191.8,235.0 192.1,239.0 192.3,243.3 192.6,246.0 192.8,245.5 193.1,243.6 193.3,238.9 193.6,234.5 193.8,230.3 194.1,230.3 194.3,230.3 194.6,232.8 194.8,237.1 195.1,241.6 195.3,242.1 195.6,240.6 195.8,240.6 196.1,240.9 196.3,243.9 196.6,245.2 196.8,230.3 197.1,215.3 197.3,201.6 197.6,201.6 197.8,201.6 198.1,209.7 198.3,224.1 198.6,240.5 198.8,244.6 199.1,244.8 199.3,241.3 199.6,241.3 199.8,241.3 200.1,241.5 200.3,242.2 200.6,242.0 200.8,239.8 201.1,234.8 201.3,234.2 201.6,234.2 201.8,236.5 202.1,241.2 202.3,236.7 202.6,232.4 202.8,229.9 203.1,229.9 203.3,229.9 203.6,234.1 203.8,238.4 204.1,243.1 204.3,245.0 204.6,242.9 204.8,241.5 205.1,245.5 205.3,243.2 205.6,242.1 205.8,240.3 206.1,241.1 206.3,241.6 206.6,242.7 206.8,243.0 207.1,244.5 207.3,242.3 207.6,244.0 207.8,241.8 208.1,240.5 208.3,235.4 208.6,233.4 208.8,233.4 209.1,234.4 209.3,239.5 209.6,237.2 209.8,242.8 210.1,238.2 210.3,241.7 210.6,245.4 210.8,241.9 211.1,242.0 211.3,236.2 211.6,234.0 211.8,234.0 212.1,235.1 212.3,240.8 212.6,242.0 212.8,244.4 213.1,244.4 213.3,245.6 213.6,242.0 213.8,241.9 214.1,239.9 214.3,239.9 214.6,239.9 214.8,242.9 215.1,246.3 215.3,248.4 215.6,248.4 215.8,248.4 216.1,241.3 216.3,243.2 216.6,239.7 216.8,243.5 217.1,241.8 217.3,239.6 217.6,244.8 217.8,239.0 218.1,233.7 218.3,232.7 218.6,232.7 218.8,234.8 219.1,239.9 219.3,242.2 219.6,243.3 219.8,240.8 220.1,240.8 220.3,239.5 220.6,242.8 220.8,243.8 221.1,244.8 221.3,245.5 221.6,240.5 221.8,243.1 222.1,240.5 222.3,240.1 222.6,240.1 222.8,241.2 223.1,242.9 223.3,244.1 223.6,241.5 223.8,241.6 224.1,240.7 224.3,241.0 224.6,241.4 224.8,245.1 225.1,242.1 225.3,245.6 225.6,242.7 225.8,238.1 226.1,233.8 226.3,231.3 226.6,231.3 226.8,231.3 227.1,235.5 227.3,239.9 227.6,244.7 227.8,244.5 228.1,242.9 228.3,246.6 228.6,246.6 228.8,246.6 229.1,244.0 229.3,246.9 229.6,247.0 229.8,247.0 230.1,246.5 230.3,246.9 230.6,246.8 230.8,242.4 231.1,242.5 231.3,241.7 231.6,243.4 231.8,242.5 232.1,240.9 232.3,240.9 232.6,239.4 232.8,243.4 233.1,241.7 233.3,243.3 233.6,242.3 233.8,242.6 234.1,245.1 234.3,242.7 234.6,240.1 234.8,241.2 235.1,241.4 235.3,242.5 235.6,242.8 235.8,242.1 236.1,245.1 236.3,238.7 236.6,241.4 236.8,239.4 237.1,239.4 237.3,239.4 237.6,241.4 237.6,250.0 237.3,249.2 237.1,251.0 236.8,251.1 236.6,249.3 236.3,251.1 236.1,251.8 235.8,249.4 235.6,251.3 235.3,249.0 235.1,256.0 234.8,256.0 234.6,256.0 234.3,251.2 234.1,250.5 233.8,250.2 233.6,250.2 233.3,250.5 233.1,251.3 232.8,249.5 232.6,250.5 232.3,251.1 232.1,251.7 231.8,250.9 231.6,250.5 231.3,250.5 231.1,250.8 230.8,251.1 230.6,251.0 230.3,251.1 230.1,250.6 229.8,256.0 229.6,256.0 229.3,256.0 229.1,256.0 228.8,256.0 228.6,256.0 228.3,256.0 228.1,256.0 227.8,256.0 227.6,256.0 227.3,256.0 227.1,256.0 226.8,248.7 226.6,247.7 226.3,248.3 226.1,247.9 225.8,248.2 225.6,249.1 225.3,249.8 225.1,246.3 224.8,256.0 224.6,256.0 224.3,256.0 224.1,256.0 223.8,256.0 223.6,256.0 223.3,256.0 223.1,248.8 222.8,248.1 222.6,248.3 222.3,249.6 222.1,247.4 221.8,248.1 221.6,249.5 221.3,251.2 221.1,249.0 220.8,248.0 220.6,247.8 220.3,248.1 220.1,250.5 219.8,256.0 219.6,256.0 219.3,256.0 219.1,256.0 218.8,256.0 218.6,256.0 218.3,251.0 218.1,250.8 217.8,250.3 217.6,251.4 217.3,249.7 217.1,249.8 216.8,251.6 216.6,252.8 216.3,251.7 216.1,256.0 215.8,256.0 215.6,256.0 215.3,256.0 215.1,250.8 214.8,252.7 214.6,252.8 214.3,251.1 214.1,250.8 213.8,252.4 213.6,251.7 213.3,251.3 213.1,253.1 212.8,253.4 212.6,252.6 212.3,251.6 212.1,252.5 211.8,250.9 211.6,252.1 211.3,252.2 211.1,253.2 210.8,252.9 210.6,256.0 210.3,256.0 210.1,256.0 209.8,256.0 209.6,252.3 209.3,251.4 209.1,252.4 208.8,249.0 208.6,251.7 208.3,250.9 208.1,251.3 207.8,252.6 207.6,251.7 207.3,251.3 207.1,251.4 206.8,249.6 206.6,251.5 206.3,249.8 206.1,250.2 205.8,256.0 205.6,256.0 205.3,256.0 205.1,256.0 204.8,256.0 204.6,256.0 204.3,256.0 204.1,256.0 203.8,250.0 203.6,250.2 203.3,250.9 203.1,248.8 202.8,248.4 202.6,250.1 202.3,248.4 202.1,248.9 201.8,249.4 201.6,256.0 201.3,256.0 201.1,256.0 200.8,256.0 200.6,256.0 200.3,256.0 200.1,256.0 199.8,256.0 199.6,256.0 199.3,256.0 199.1,256.0 198.8,248.8 198.6,250.0 198.3,250.7 198.1,249.2 197.8,248.9 197.6,250.1 197.3,246.1 197.1,250.1 196.8,250.0 196.6,249.4 196.3,250.0 196.1,256.0 195.8,256.0 195.6,256.0 195.3,256.0 195.1,256.0 194.8,256.0 194.6,256.0 194.3,256.0 194.1,256.0 193.8,256.0 193.6,256.0 193.3,256.0 193.1,256.0 192.8,249.7 192.6,250.2 192.3,254.0 192.1,252.2 191.8,250.4 191.6,249.5 191.3,251.3 191.1,249.7 190.8,250.9 190.6,251.7 190.3,251.6 190.1,256.0 189.8,256.0 189.6,256.0 189.3,256.0 189.1,256.0 188.8,256.0 188.6,256.0 188.3,256.0 188.1,256.0 187.8,256.0 187.6,256.0 187.3,256.0 187.1,256.0 186.8,251.1 186.6,251.0 186.3,251.4 186.1,250.8 185.8,250.6 185.6,251.3 185.3,248.6 185.1,251.0 184.8,249.7 184.6,251.5 184.3,251.0 184.1,249.3 183.8,250.6 183.6,251.8 183.3,251.4 183.1,251.5 182.8,251.7 182.6,256.0 182.3,256.0 182.1,256.0 181.8,256.0 181.6,256.0 181.3,252.3 181.1,250.1 180.8,251.2 180.6,252.6 180.3,252.0 180.1,254.0 179.8,253.5 179.6,252.3 179.3,251.9 179.1,251.0 178.8,252.7 178.6,251.7 178.3,251.9 178.1,252.2 177.8,251.4 177.6,252.0 177.3,253.1 177.1,251.6 176.8,251.7 176.6,256.0 176.3,256.0 176.1,256.0 175.8,256.0 175.6,256.0 175.3,256.0 175.1,256.0 174.8,256.0 174.6,250.0 174.3,250.4 174.1,250.1 173.8,248.5 173.6,249.7 173.3,250.4 173.1,248.5 172.8,249.5 172.6,249.8 172.3,247.2 172.1,249.8 171.8,250.0 171.6,247.8 171.3,249.8 171.1,248.8 170.8,247.1 170.6,247.6 170.3,248.0 170.1,256.0 169.8,256.0 169.6,256.0 169.3,256.0 169.1,256.0 168.8,256.0 168.6,256.0 168.3,256.0 168.1,256.0 167.8,256.0 167.6,256.0 167.3,253.8 167.1,251.9 166.8,250.7 166.6,249.3 166.3,252.3 166.1,251.3 165.8,251.3 165.6,251.4 165.3,251.2 165.1,251.9 164.8,249.9 164.6,250.7 164.3,251.4 164.1,253.3 163.8,253.3 163.6,256.0 163.3,256.0 163.1,256.0 162.8,256.0 162.6,256.0 162.3,256.0 162.1,256.0 161.8,256.0 161.6,256.0 161.3,256.0 161.1,252.0 160.8,249.6 160.6,249.9 160.3,250.4 160.1,250.1 159.8,249.9 159.6,250.6 159.3,250.4 159.1,249.7 158.8,251.2 158.6,249.6 158.3,248.9 158.1,249.4 157.8,250.8 157.6,249.6 157.3,251.8 157.1,256.0 156.8,256.0 156.6,256.0 156.3,256.0 156.1,256.0 155.8,256.0 155.6,256.0 155.3,256.0 155.1,256.0 154.8,256.0 154.6,256.0 154.3,256.0 154.1,252.3 153.8,250.8 153.6,252.6 153.3,250.6 153.1,251.8 152.8,251.9 152.6,250.8 152.3,251.5 152.1,250.4 151.8,249.7 151.6,249.6 151.3,252.1 151.1,251.8 150.8,251.1 150.6,250.5 150.3,250.2 150.1,251.2 149.8,251.3 149.6,256.0 149.3,256.0 149.1,256.0 148.8,256.0 148.6,256.0 148.3,256.0 148.1,256.0 147.8,256.0 147.6,247.9 147.3,249.7 147.1,248.9 146.8,250.9 146.6,251.7 146.3,249.7 146.1,250.0 145.8,250.8 145.6,248.9 145.3,248.3 145.1,249.7 144.8,250.3 144.6,250.0 144.3,250.1 144.1,249.8 143.8,249.7 143.6,249.6 143.3,251.0 143.1,256.0 142.8,256.0 142.6,256.0 142.3,256.0 142.1,256.0 141.8,250.3 141.6,248.8 141.3,249.4 141.1,251.5 140.8,251.5 140.6,252.0 140.3,250.1 140.1,251.7 139.8,256.0 139.6,256.0 139.3,256.0 139.1,256.0 138.8,249.4 138.6,248.1 138.3,249.8 138.1,248.1 137.8,248.4 137.6,248.5 137.3,248.2 137.1,250.3 136.8,249.3 136.6,249.0 136.3,256.0 136.1,256.0 135.8,256.0 135.6,256.0 135.3,250.1 135.1,248.6 134.8,251.2 134.6,250.8 134.3,251.4 134.1,251.3 133.8,250.8 133.6,251.1 133.3,250.1 133.1,249.6 132.8,248.1 132.6,250.2 132.3,249.1 132.1,250.1 131.8,256.0 131.6,256.0 131.3,256.0 131.1,256.0 130.8,256.0 130.6,256.0 130.3,256.0 130.1,256.0 129.8,256.0 129.6,256.0 129.3,256.0 129.1,256.0 128.8,256.0 128.6,249.1 128.3,252.0 128.1,252.4 127.8,250.9 127.6,250.1 127.3,248.7 127.1,249.5 126.8,250.1 126.6,251.6 126.3,249.3 126.1,251.6 125.8,248.1 125.6,249.9 125.3,251.9 125.1,248.4 124.8,256.0 124.6,256.0 124.3,256.0 124.1,256.0 123.8,256.0 123.6,256.0 123.3,250.7 123.1,248.7 122.8,248.7 122.6,250.5 122.3,249.1 122.1,248.3 121.8,248.3 121.6,249.5 121.3,251.2 121.1,247.7 120.8,249.8 120.6,249.3 120.3,248.7 120.1,247.9 119.8,256.0 119.6,256.0 119.3,256.0 119.1,256.0 118.8,256.0 118.6,256.0 118.3,256.0 118.1,256.0 117.8,252.3 117.6,253.5 117.3,249.3 117.1,251.3 116.8,253.8 116.6,253.6 116.3,252.6 116.1,254.8 115.8,251.4 115.6,252.4 115.3,251.7 115.1,251.9 114.8,252.8 114.6,251.5 114.3,251.1 114.1,252.9 113.8,252.0 113.6,251.5 113.3,251.4 113.1,256.0 112.8,256.0 112.6,256.0 112.3,256.0 112.1,256.0 111.8,252.2 111.6,250.3 111.3,250.4 111.1,249.0 110.8,252.1 110.6,253.2 110.3,249.7 110.1,251.7 109.8,250.3 109.6,249.6 109.3,251.3 109.1,256.0 108.8,256.0 108.6,256.0 108.3,256.0 108.1,256.0 107.8,256.0 107.6,256.0 107.3,256.0 107.1,249.6 106.8,251.9 106.6,250.8 106.3,252.3 106.1,250.9 105.8,251.2 105.6,250.0 105.3,252.2 105.1,252.1 104.8,248.7 104.6,249.2 104.3,252.5 104.1,249.9 103.8,252.0 103.6,248.9 103.3,253.2 103.1,252.5 102.8,251.2 102.6,249.1 102.3,252.0 102.1,256.0 101.8,256.0 101.6,256.0 101.3,256.0 101.1,256.0 100.8,256.0 100.6,256.0 100.3,256.0 100.1,256.0 99.8,248.9 99.6,250.6 99.3,248.7 99.1,248.7 98.8,250.1 98.6,250.9 98.3,248.8 98.1,250.5 97.8,250.6 97.6,256.0 97.3,256.0 97.1,256.0 96.8,256.0 96.6,256.0 96.3,256.0 96.1,256.0 95.8,251.8 95.6,253.7 95.3,252.7 95.1,249.5 94.8,251.5 94.6,252.0 94.3,251.7 94.1,248.5 93.8,248.9 93.6,249.9 93.3,251.3 93.1,251.7 92.8,250.9 92.6,256.0 92.3,256.0 92.1,256.0 91.8,256.0 91.6,256.0 91.3,256.0 91.1,256.0 90.8,256.0 90.6,256.0 90.3,256.0 90.1,256.0 89.8,256.0 89.6,251.6 89.3,250.5 89.1,253.1 88.8,251.6 88.6,251.1 88.3,250.4 88.1,250.3 87.8,256.0 87.6,256.0 87.3,256.0 87.1,256.0 86.8,256.0 86.6,256.0 86.3,256.0 86.1,256.0 85.8,256.0 85.6,256.0 85.3,256.0 85.1,256.0 84.8,256.0 84.6,256.0 84.3,250.6 84.1,251.2 83.8,251.6 83.6,249.2 83.3,250.4 83.1,250.1 82.8,248.1 82.6,251.4 82.3,250.6 82.1,249.8 81.8,252.0 81.6,250.1 81.3,248.9 81.1,252.0 80.8,256.0 80.6,256.0 80.3,256.0 80.1,256.0 79.8,256.0 79.6,256.0 79.3,256.0 79.1,256.0 78.8,256.0 78.6,256.0 78.3,256.0 78.1,252.3 77.8,251.5 77.6,250.6 77.3,252.3 77.1,251.2 76.8,250.6 76.6,250.6 76.3,251.4 76.1,250.5 75.8,251.7 75.6,251.2 75.3,251.8 75.1,253.7 74.8,251.4 74.6,252.4 74.3,249.6 74.1,252.3 73.8,250.1 73.6,250.6 73.3,256.0 73.1,256.0 72.8,256.0 72.6,256.0 72.3,256.0 72.1,252.7 71.8,252.4 71.6,251.9 71.3,250.8 71.1,250.8 70.8,253.6 70.6,252.0 70.3,251.7 70.1,250.7 69.8,256.0 69.6,256.0 69.3,256.0 69.1,256.0 68.8,256.0 68.6,256.0 68.3,251.9 68.1,250.5 67.8,251.2 67.6,250.8 67.3,252.5 67.1,252.0 66.8,250.3 66.6,250.5 66.3,251.0 66.1,248.6 65.8,251.1 65.6,256.0 65.3,256.0 65.1,256.0 64.8,256.0 64.6,256.0 64.3,256.0 64.1,256.0 63.8,256.0 63.6,256.0 63.3,256.0 63.1,256.0 62.8,256.0 62.6,250.7 62.3,252.9 62.1,251.4 61.8,250.2 61.6,251.6 61.3,248.4 61.1,249.7 60.8,256.0 60.6,256.0 60.3,256.0 60.1,256.0 59.8,256.0 59.6,256.0 59.3,256.0 59.1,256.0 58.8,256.0 58.6,256.0 58.3,251.2 58.1,251.4 57.8,251.8 57.6,251.7 57.3,250.5 57.1,250.5 56.8,252.7 56.6,252.1 56.3,252.1 56.1,250.3 55.8,256.0 55.6,256.0 55.3,256.0 55.1,256.0 54.8,256.0 54.6,256.0 54.3,256.0 54.1,256.0 53.8,256.0 53.6,256.0 53.3,251.8 53.1,250.8 52.8,251.3 52.6,250.2 52.3,251.6" fill="#101010" stroke="#101010" stroke-width="0.3" stroke-linejoin="round"/>
<line x1="52.2" x2="237" y1="247.62" y2="247.62" stroke="#fff" stroke-opacity="0.15" stroke-width="0.6"/>
<rect x="338.5" y="169.5" width="192.9" height="87.5" fill="none" stroke="#1c1c1c" stroke-width="1"/>
<path d="M377.12 257V254.8M377.12 169.5V171.7M415.74 257V254.8M415.74 169.5V171.7M454.36 257V254.8M454.36 169.5V171.7M492.98 257V254.8M492.98 169.5V171.7M338.5 213.25H340.7M531.4 213.25H529.2" stroke="#1c1c1c" stroke-width="0.8" fill="none"/>
<text x="333.9" y="261.3" font-size="12" text-anchor="end" fill="#1c1c1c">0.98</text>
<text x="333.9" y="217.55" font-size="12" text-anchor="end" fill="#1c1c1c">1</text>
<text x="333.9" y="173.8" font-size="12" text-anchor="end" fill="#1c1c1c">1.02</text>
<text x="338.5" y="271.8" font-size="12" text-anchor="middle" fill="#1c1c1c">0</text>
<text x="377.12" y="271.8" font-size="12" text-anchor="middle" fill="#1c1c1c">1000</text>
<text x="415.74" y="271.8" font-size="12" text-anchor="middle" fill="#1c1c1c">2000</text>
<text x="454.36" y="271.8" font-size="12" text-anchor="middle" fill="#1c1c1c">3000</text>
<text x="492.98" y="271.8" font-size="12" text-anchor="middle" fill="#1c1c1c">4000</text>
<text x="531.6" y="271.8" font-size="12" text-anchor="middle" fill="#1c1c1c">5000</text>
<text x="429.7" y="289.7" font-size="13.8" text-anchor="middle" fill="#1c1c1c">Samples</text>
<text x="304.2" y="210.8" font-size="13.6" text-anchor="middle" fill="#1c1c1c" transform="rotate(-90 304.2 210.8)">STA/LTA</text>
<text x="346.8" y="187.9" font-size="13" text-anchor="start" fill="#1c1c1c">(d)</text>
<polyline points="338.4,217.8 341.0,215.0 344.1,214.4 350.1,211.8 354.2,209.7 357.2,207.3 359.8,209.7 362.3,208.3 364.3,210.4 368.3,209.7 373.4,211.0 379.4,212.4 384.5,213.8 387.5,217.4 389.5,218.0 390.9,216.4 392.6,217.8 394.6,216.4 396.6,215.0 399.0,214.4 400.6,212.4 401.5,181.1 402.9,222.6 403.7,224.3 404.6,223.6 405.2,217.5 406.0,212.8 407.7,210.4 410.3,209.7 411.8,210.4 413.8,208.3 415.8,210.4 418.4,209.3 420.4,207.9 423.3,211.0 426.9,211.4 432.0,211.0 436.1,211.6 439.1,213.8 441.1,217.5 442.3,219.7 444.5,218.7 446.2,219.1 448.6,217.3 451.2,217.3 454.2,215.3 458.3,212.2 461.9,208.8 464.3,210.2 466.4,210.2 468.4,209.2 471.4,210.6 474.4,211.0 477.5,210.2 481.5,210.8 485.0,210.2 486.0,209.6 486.5,242.5 487.0,203.2 487.6,201.8 489.3,201.8 490.0,204.2 490.5,210.8 491.3,212.2 493.6,214.2 496.3,217.6 497.7,219.3 499.7,216.9 502.3,217.3 505.8,215.9 508.8,213.2 511.8,214.6 513.2,213.2 515.9,209.2 517.3,207.2 519.3,205.8 521.3,204.1" fill="none" stroke="#1c1c1c" stroke-width="1.1" stroke-linejoin="round"/>
</svg>
</body></html>
